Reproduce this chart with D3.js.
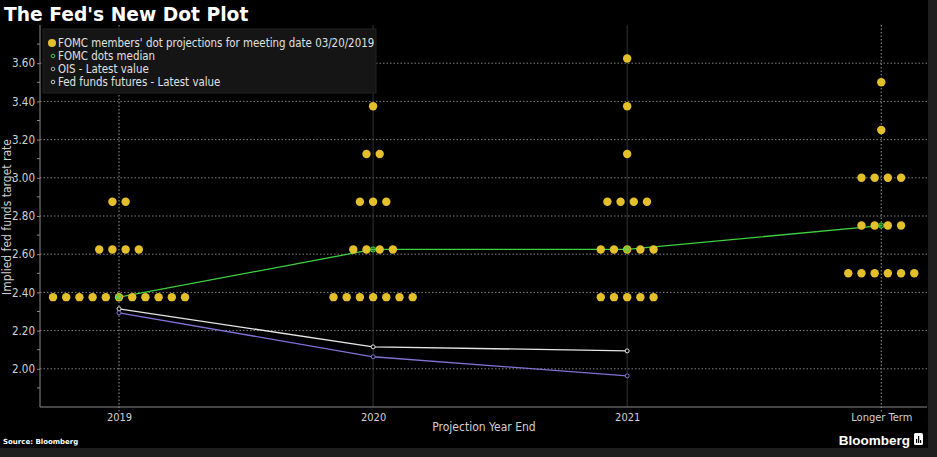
<!DOCTYPE html>
<html>
<head>
<meta charset="utf-8">
<script src="https://cdn.jsdelivr.net/npm/d3@7/dist/d3.min.js"></script>
<style>
  html, body { margin: 0; padding: 0; background: #000; }
  svg { display: block; }
  .cond { font-family: "Liberation Sans Narrow", "DejaVu Sans Condensed", "Liberation Sans", sans-serif; }
</style>
</head>
<body>
<svg id="chart" width="937" height="457"></svg>
<script>
// ---- Data ----
const categories = ["2019", "2020", "2021", "Longer Term"];
// dot projections: [rate, number of participants]
const dots2019 = [[2.375, 11], [2.625, 4], [2.875, 2]];
const dots2020 = [[2.375, 7], [2.625, 4], [2.875, 3], [3.125, 2], [3.375, 1]];
const dots2021 = [[2.375, 5], [2.625, 5], [2.875, 4], [3.125, 1], [3.375, 1], [3.625, 1]];
const dotsLonger = [[2.5, 6], [2.75, 4], [3.0, 4], [3.25, 1], [3.5, 1]];
const medianValues = [2.375, 2.625, 2.625, 2.75];
const oisValues = [2.314, 2.115, 2.094];
const futuresValues = [2.293, 2.063, 1.963];
const yTickValues = [2.0, 2.2, 2.4, 2.6, 2.8, 3.0, 3.2, 3.4, 3.6];
const yMinorTicks = [1.9, 2.1, 2.3, 2.5, 2.7, 2.9, 3.1, 3.3, 3.5, 3.7];
const legendLabels = [
  "FOMC members' dot projections for meeting date 03/20/2019",
  "FOMC dots median",
  "OIS - Latest value",
  "Fed funds futures - Latest value"
];

// ---- Layout ----
const W = 937, H = 457;
const plot = { left: 40, right: 927, top: 25, bottom: 407 };
const colors = {
  dot: "#e3c02b", median: "#3fcf3f", ois: "#e6e6e6", futures: "#7f72d6",
  grid: "#808080", axis: "#8a8a8a", text: "#d0d0d0"
};
const dotSpacing = 13.2;

const svg = d3.select("#chart");
svg.append("rect").attr("width", W).attr("height", H).attr("fill", "#000");
svg.append("rect").attr("x", 928).attr("y", 0).attr("width", W - 928).attr("height", H).attr("fill", "#1e1e1e");
svg.append("rect").attr("x", 0).attr("y", 448).attr("width", W).attr("height", H - 448).attr("fill", "#1e1e1e");

const x = d3.scaleLinear().domain([-0.311, 3.18]).range([plot.left, plot.right]);
const y = d3.scaleLinear().domain([1.8, 3.8]).range([plot.bottom, plot.top]);

// ---- Gridlines ----
const g = svg.append("g");
g.selectAll(".hgrid").data(yTickValues).join("line")
  .attr("x1", plot.left).attr("x2", plot.right)
  .attr("y1", d => y(d)).attr("y2", d => y(d))
  .attr("stroke", colors.grid).attr("stroke-width", 1).attr("stroke-dasharray", "1.5,2");

categories.forEach((c, i) => {
  const dotted = (i === 0 || i === 3);
  g.append("line")
    .attr("x1", x(i)).attr("x2", x(i))
    .attr("y1", plot.top).attr("y2", plot.bottom + (dotted ? 5 : 0))
    .attr("stroke", dotted ? "#9a9a9a" : "#333")
    .attr("stroke-width", 1)
    .attr("stroke-dasharray", dotted ? "1.5,2" : null);
});

// ---- Axes ----
const yAxis = d3.axisLeft(y).tickValues(yTickValues).tickFormat(d3.format(".2f")).tickSize(3).tickPadding(2);
const yAxisG = svg.append("g").attr("transform", `translate(${plot.left},0)`).call(yAxis);
yAxisG.select(".domain").attr("stroke", colors.axis).attr("d", `M0,${plot.top}V${plot.bottom}`);
yAxisG.selectAll(".tick line").attr("stroke", colors.axis);
yAxisG.selectAll(".tick text").attr("fill", colors.text).attr("class", "cond").style("font-size", "11.5px");
yAxisG.selectAll(".minor").data(yMinorTicks).join("line")
  .attr("x1", -3).attr("x2", 0).attr("y1", d => y(d)).attr("y2", d => y(d))
  .attr("stroke", colors.axis);

const xAxis = d3.axisBottom(x).tickValues(d3.range(categories.length)).tickFormat(i => categories[i]).tickSize(0).tickPadding(6);
const xAxisG = svg.append("g").attr("transform", `translate(0,${plot.bottom})`).call(xAxis);
xAxisG.select(".domain").attr("stroke", colors.axis).attr("d", `M${plot.left},0H${plot.right}`);
xAxisG.selectAll(".tick text").attr("fill", colors.text).attr("class", "cond").style("font-size", "11px");

svg.append("text").attr("class", "cond")
  .attr("x", 484).attr("y", 431)
  .attr("text-anchor", "middle").attr("fill", colors.text).style("font-size", "12px")
  .text("Projection Year End");

svg.append("text").attr("class", "cond")
  .attr("transform", `translate(11,${(plot.top + plot.bottom) / 2 + 1}) rotate(-90)`)
  .attr("text-anchor", "middle").attr("fill", colors.text).style("font-size", "12px")
  .text("Implied fed funds target rate");

// ---- Lines ----
const line = d3.line().x((d, i) => x(i)).y(d => y(d));
svg.append("path").datum(medianValues).attr("d", line)
  .attr("fill", "none").attr("stroke", colors.median).attr("stroke-width", 1.3);
svg.append("path").datum(oisValues).attr("d", line)
  .attr("fill", "none").attr("stroke", colors.ois).attr("stroke-width", 1.3);
svg.append("path").datum(futuresValues).attr("d", line)
  .attr("fill", "none").attr("stroke", colors.futures).attr("stroke-width", 1.3);

// ---- Dots ----
const allDots = [dots2019, dots2020, dots2021, dotsLonger];
const dotPoints = [];
allDots.forEach((rows, ci) => {
  rows.forEach(([rate, n]) => {
    for (let k = 0; k < n; k++) {
      dotPoints.push({ ci, rate, off: (k - (n - 1) / 2) * dotSpacing });
    }
  });
});
svg.append("g").selectAll("circle").data(dotPoints).join("circle")
  .attr("cx", d => x(d.ci) + d.off).attr("cy", d => y(d.rate)).attr("r", 4.2)
  .attr("fill", colors.dot);

// ---- Markers ----
svg.append("g").selectAll("circle").data(medianValues).join("circle")
  .attr("cx", (d, i) => x(i)).attr("cy", d => y(d)).attr("r", 2.6)
  .attr("fill", "rgba(63,207,63,0.45)").attr("stroke", colors.median).attr("stroke-width", 1);
svg.append("g").selectAll("circle").data(oisValues).join("circle")
  .attr("cx", (d, i) => x(i)).attr("cy", d => y(d)).attr("r", 2)
  .attr("fill", "#000").attr("stroke", colors.ois).attr("stroke-width", 1);
svg.append("g").selectAll("circle").data(futuresValues).join("circle")
  .attr("cx", (d, i) => x(i)).attr("cy", d => y(d)).attr("r", 2)
  .attr("fill", "#000").attr("stroke", colors.futures).attr("stroke-width", 1);

// ---- Legend ----
const lg = svg.append("g");
lg.append("rect").attr("x", 43).attr("y", 29).attr("width", 333).attr("height", 64)
  .attr("fill", "#151515").attr("stroke", "#222");
const legendY = [43, 56, 69, 82];
legendLabels.forEach((t, i) => {
  const cy = legendY[i];
  if (i === 0) {
    lg.append("circle").attr("cx", 52).attr("cy", cy).attr("r", 4).attr("fill", colors.dot);
  } else {
    const st = [null, colors.median, "#aaa", "#ccc"][i];
    lg.append("circle").attr("cx", 53).attr("cy", cy).attr("r", 1.8)
      .attr("fill", "none").attr("stroke", st).attr("stroke-width", 1);
  }
  lg.append("text").attr("class", "cond").attr("x", 58).attr("y", cy + 4)
    .attr("fill", "#e0e0e0").style("font-size", "11.4px").text(t);
});

// ---- Title & footer ----
svg.append("text").attr("x", 4).attr("y", 21)
  .attr("fill", "#fff").style("font-family", "'DejaVu Sans', sans-serif")
  .style("font-weight", "bold").style("font-size", "18.7px").text("The Fed's New Dot Plot");

svg.append("text").attr("x", 3).attr("y", 444)
  .attr("fill", "#fff").style("font-family", "'DejaVu Sans', sans-serif")
  .style("font-weight", "bold").style("font-size", "7px").text("Source: Bloomberg");

svg.append("text").attr("x", 910).attr("y", 445).attr("text-anchor", "end")
  .attr("fill", "#fff").style("font-family", "'Liberation Sans', Arial, sans-serif")
  .style("font-weight", "bold").style("font-size", "13.5px").text("Bloomberg");
const logo = svg.append("g").attr("transform", "translate(914,433)");
logo.append("rect").attr("width", 9).attr("height", 12).attr("rx", 1.5).attr("fill", "#fff");
[[2, 6, 4], [4, 3, 7], [6, 7, 3]].forEach(([bx, by, bh]) => {
  logo.append("rect").attr("x", bx).attr("y", by).attr("width", 1.2).attr("height", bh).attr("fill", "#000");
});
</script>
</body>
</html>
